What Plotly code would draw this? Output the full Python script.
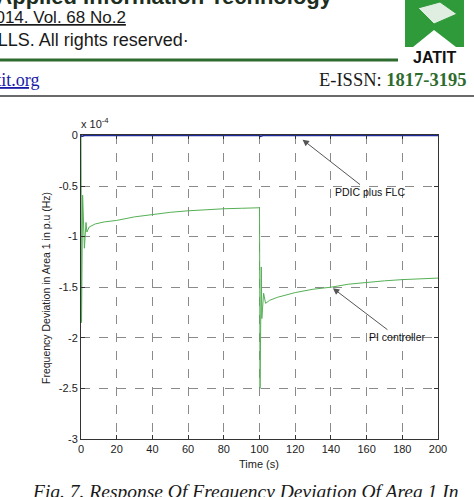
import plotly.graph_objects as go

# ---- data (y in units of 1e-4 p.u.) ----
pi_time = [0, 0.3, 0.9, 1.9, 2.8, 3.3, 4.6, 8, 13, 20, 30, 40, 50, 60, 70, 80, 90, 100,
           100.3, 101, 101.3, 102.3, 103.4, 105.6, 110, 120, 130, 140, 150, 160, 170, 180, 190, 200]
pi_value = [0, -1.85, -0.59, -1.115, -0.86, -0.955, -0.905, -0.875, -0.855, -0.84, -0.805, -0.78,
            -0.76, -0.745, -0.733, -0.725, -0.72, -0.715,
            -2.5, -1.30, -1.81, -1.56, -1.66, -1.63, -1.60, -1.553, -1.52, -1.50, -1.47, -1.45,
            -1.437, -1.425, -1.417, -1.41]
pdic_time = [0, 0.5, 2, 100, 100.5, 102, 200]
pdic_value = [0, -0.01, 0, 0, -0.01, 0, 0]

x_ticks = [0, 20, 40, 60, 80, 100, 120, 140, 160, 180, 200]
y_ticks = [0, -0.5, -1, -1.5, -2, -2.5, -3]
y_tick_text = ["0", "-0.5", "-1", "-1.5", "-2", "-2.5", "-3"]

W, H = 474, 497
L, R, T, B = 81, 36, 135, 58
PW, PH = W - L - R, H - T - B


def px(xp):
    return (xp - L) / PW


def py(yp):
    return (H - B - yp) / PH


fig = go.Figure()
fig.add_trace(go.Scatter(x=pi_time, y=pi_value, mode="lines",
                         line=dict(color="#55b055", width=1), name="PI controller"))
fig.add_trace(go.Scatter(x=pdic_time, y=pdic_value, mode="lines",
                         line=dict(color="#1c2a9a", width=1.6), name="PDIC plus FLC"))

axis_common = dict(showline=True, linecolor="#333333", linewidth=1, mirror="ticks",
                   ticks="inside", ticklen=4, tickcolor="#333333",
                   showgrid=True, gridcolor="#8a8a8a", griddash="dash", gridwidth=1,
                   zeroline=False,
                   tickfont=dict(family="Liberation Sans, Arial", size=11, color="#222222"))

fig.update_xaxes(range=[0, 200], tickvals=x_ticks, **axis_common)
fig.update_yaxes(range=[-3, 0.004], tickvals=y_ticks, ticktext=y_tick_text, **axis_common)


def note(xp, yp, text, size=11, family="Liberation Sans, Arial", color="#222222",
         xanchor="center", yanchor="middle", **kw):
    return dict(x=px(xp), y=py(yp), xref="paper", yref="paper", text=text, showarrow=False,
                xanchor=xanchor, yanchor=yanchor,
                font=dict(family=family, size=size, color=color), **kw)


ann = []
ann.append(note(259, 464, "Time (s)"))
ann.append(note(46, 288, "Frequency Deviation in Area 1 in p.u (Hz)", size=10.5, textangle=-90))
ann.append(note(79, 123, "x 10<sup>-4</sup>", xanchor="left"))
# arrows with labels
ann.append(dict(x=124.1, y=-0.042, xref="x", yref="y", ax=161.7, ay=-0.56, axref="x", ayref="y",
                text="PDIC plus FLC", showarrow=True, arrowhead=2, arrowsize=1.3, arrowwidth=1,
                arrowcolor="#555555", font=dict(family="Liberation Sans, Arial", size=10.5, color="#111111")))
ann.append(dict(x=141.1, y=-1.51, xref="x", yref="y", ax=177.2, ay=-1.994, axref="x", ayref="y",
                text="PI controller", showarrow=True, arrowhead=2, arrowsize=1.3, arrowwidth=1,
                arrowcolor="#555555", font=dict(family="Liberation Sans, Arial", size=10.5, color="#111111")))

# page header / caption fragments
ann.append(note(335, -4, "<b>Journal of Theoretical and Applied Information Technology</b>", size=22,
                color="#1e2e1e", xanchor="right"))
ann.append(note(128, 18, "<u>15th October 2014. Vol. 68 No.2</u>", size=17, color="#1a1a1a", xanchor="right"))
ann.append(note(191, 40, "© 2005 - 2014 JATIT &amp; LLS. All rights reserved·", size=18, color="#1a1a1a",
                xanchor="right"))
ann.append(note(42, 80, "<u>www.jatit.org</u>", size=18, family="Liberation Serif, Times New Roman",
                color="#1a1aa8", xanchor="right"))
ann.append(note(469, 80, "E-ISSN: <b><span style='color:#2e6b2e'>1817-3195</span></b>", size=18.5,
                family="Liberation Serif, Times New Roman", color="#1a1a1a", xanchor="right"))
ann.append(note(434, 57, "<b>JATIT</b>", size=16, color="#111111"))
ann.append(note(245, 491, "<i>Fig. 7. Response Of Frequency Deviation Of Area 1 In</i>", size=19.5,
                family="Liberation Serif, Times New Roman", color="#1a1a1a"))

shapes = []
shapes.append(dict(type="line", xref="paper", yref="paper", x0=px(0), x1=px(398), y0=py(60), y1=py(60),
                   line=dict(color="#2e6b2e", width=3)))
shapes.append(dict(type="line", xref="paper", yref="paper", x0=px(0), x1=px(474), y0=py(96), y1=py(96),
                   line=dict(color="#6a6a6a", width=2)))


def poly(points, fill, line=None):
    path = "M " + " L ".join("{:.4f},{:.4f}".format(px(a), py(b)) for a, b in points) + " Z"
    return dict(type="path", xref="paper", yref="paper", path=path, fillcolor=fill,
                line=line or dict(width=0))


# simple logo approximation
shapes.append(poly([(405, 0), (464, 0), (464, 47), (405, 47)], "#2f9a3a"))
shapes.append(poly([(413, 47), (456, 47), (434, 30)], "white"))
shapes.append(poly([(418, 8), (440, 2), (457, 14), (434, 24)], "#dfeee0", dict(color="#2f9a3a", width=1)))

fig.update_layout(width=W, height=H, margin=dict(l=L, r=R, t=T, b=B),
                  paper_bgcolor="white", plot_bgcolor="white", showlegend=False,
                  annotations=ann, shapes=shapes)

fig.write_html("out.html", config={"displayModeBar": False},
               post_script="document.body.style.margin='0';document.body.style.padding='0';")
